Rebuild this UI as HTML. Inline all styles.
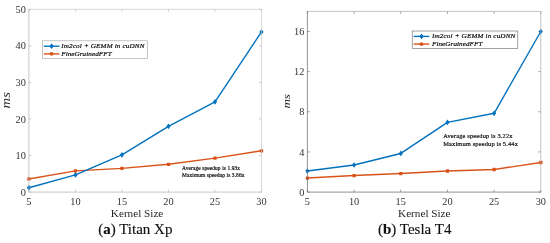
<!DOCTYPE html>
<html><head><meta charset="utf-8"><title>Figure</title>
<style>
html,body{margin:0;padding:0;background:#fff;}
body{width:550px;height:243px;overflow:hidden;position:relative;font-family:"Liberation Serif",serif;}
svg{position:absolute;left:0;top:0;}
.tk{font:10.3px "Liberation Serif",serif;fill:#333;}
.xl{font:11.2px "Liberation Serif",serif;fill:#262626;}
.yl{font-style:italic;font-family:"Liberation Serif",serif;fill:#262626;}

.lg{font:italic 7.1px "Liberation Serif",serif;fill:#111;stroke:#111;stroke-width:0.22px;}
.an{font-family:"Liberation Serif",serif;fill:#111;stroke:#111;stroke-width:0.2px;}
.cap{font:15px "Liberation Serif",serif;fill:#111;stroke:#111;stroke-width:0.15px;}
.cap tspan{font-weight:bold;}
</style></head><body>
<svg width="550" height="243" viewBox="0 0 550 243">
<rect width="550" height="243" fill="#fff"/>
<path d="M28.9 192.1H261.5V9.3H28.9Z" fill="#fff" stroke="none"/>
<path d="M28.90 192.1v-2.5M28.90 9.3v2.5" stroke="#b0b0b0" stroke-width="0.6"/>
<text x="28.90" y="205.4" text-anchor="middle" class="tk">5</text>
<path d="M75.42 192.1v-2.5M75.42 9.3v2.5" stroke="#b0b0b0" stroke-width="0.6"/>
<text x="75.42" y="205.4" text-anchor="middle" class="tk">10</text>
<path d="M121.94 192.1v-2.5M121.94 9.3v2.5" stroke="#b0b0b0" stroke-width="0.6"/>
<text x="121.94" y="205.4" text-anchor="middle" class="tk">15</text>
<path d="M168.46 192.1v-2.5M168.46 9.3v2.5" stroke="#b0b0b0" stroke-width="0.6"/>
<text x="168.46" y="205.4" text-anchor="middle" class="tk">20</text>
<path d="M214.98 192.1v-2.5M214.98 9.3v2.5" stroke="#b0b0b0" stroke-width="0.6"/>
<text x="214.98" y="205.4" text-anchor="middle" class="tk">25</text>
<path d="M261.50 192.1v-2.5M261.50 9.3v2.5" stroke="#b0b0b0" stroke-width="0.6"/>
<text x="261.50" y="205.4" text-anchor="middle" class="tk">30</text>
<path d="M28.9 192.10h2.5M261.5 192.10h-2.5" stroke="#b0b0b0" stroke-width="0.6"/>
<text x="25.799999999999997" y="195.70" text-anchor="end" class="tk">0</text>
<path d="M28.9 155.54h2.5M261.5 155.54h-2.5" stroke="#b0b0b0" stroke-width="0.6"/>
<text x="25.799999999999997" y="159.14" text-anchor="end" class="tk">10</text>
<path d="M28.9 118.98h2.5M261.5 118.98h-2.5" stroke="#b0b0b0" stroke-width="0.6"/>
<text x="25.799999999999997" y="122.58" text-anchor="end" class="tk">20</text>
<path d="M28.9 82.42h2.5M261.5 82.42h-2.5" stroke="#b0b0b0" stroke-width="0.6"/>
<text x="25.799999999999997" y="86.02" text-anchor="end" class="tk">30</text>
<path d="M28.9 45.86h2.5M261.5 45.86h-2.5" stroke="#b0b0b0" stroke-width="0.6"/>
<text x="25.799999999999997" y="49.46" text-anchor="end" class="tk">40</text>
<path d="M28.9 9.30h2.5M261.5 9.30h-2.5" stroke="#b0b0b0" stroke-width="0.6"/>
<text x="25.799999999999997" y="12.90" text-anchor="end" class="tk">50</text>
<polyline points="28.90,178.94 75.42,170.90 121.94,168.34 168.46,164.31 214.98,158.10 261.50,150.79" fill="none" stroke="#d95319" stroke-width="1.4" stroke-linejoin="round"/>
<rect x="27.25" y="177.29" width="3.3" height="3.3" rx="0.5" fill="#d95319"/>
<rect x="73.77" y="169.25" width="3.3" height="3.3" rx="0.5" fill="#d95319"/>
<rect x="120.29" y="166.69" width="3.3" height="3.3" rx="0.5" fill="#d95319"/>
<rect x="166.81" y="162.66" width="3.3" height="3.3" rx="0.5" fill="#d95319"/>
<rect x="213.33" y="156.45" width="3.3" height="3.3" rx="0.5" fill="#d95319"/>
<rect x="259.85" y="149.14" width="3.3" height="3.3" rx="0.5" fill="#d95319"/>
<polyline points="28.90,187.71 75.42,174.92 121.94,154.81 168.46,126.29 214.98,101.80 261.50,31.97" fill="none" stroke="#0072bd" stroke-width="1.4" stroke-linejoin="round"/>
<path d="M28.90 184.86l2.05 2.85l-2.05 2.85l-2.05 -2.85Z" fill="#0072bd"/>
<path d="M75.42 172.07l2.05 2.85l-2.05 2.85l-2.05 -2.85Z" fill="#0072bd"/>
<path d="M121.94 151.96l2.05 2.85l-2.05 2.85l-2.05 -2.85Z" fill="#0072bd"/>
<path d="M168.46 123.44l2.05 2.85l-2.05 2.85l-2.05 -2.85Z" fill="#0072bd"/>
<path d="M214.98 98.95l2.05 2.85l-2.05 2.85l-2.05 -2.85Z" fill="#0072bd"/>
<path d="M261.50 29.12l2.05 2.85l-2.05 2.85l-2.05 -2.85Z" fill="#0072bd"/>
<path d="M28.9 9.3H261.5V192.1" fill="none" stroke="#c8c8c8" stroke-width="0.7"/>
<path d="M28.9 9.3V192.1H261.5" fill="none" stroke="#b0b0b0" stroke-width="0.7"/>
<text x="137.1" y="216.7" text-anchor="middle" class="xl">Kernel Size</text>
<text transform="translate(9.6 100.30) rotate(-90)" text-anchor="middle" class="yl" font-size="11.8" textLength="16.3" lengthAdjust="spacingAndGlyphs">ms</text>
<rect x="42.3" y="40.8" width="105.3" height="17.6" fill="#fff" stroke="#a0a0a0" stroke-width="0.6"/>
<path d="M43.8 46.199999999999996h15.6" stroke="#0072bd" stroke-width="1.4"/>
<path d="M51.599999999999994 43.3l2.1 2.9l-2.1 2.9l-2.1 -2.9Z" fill="#0072bd"/>
<text x="61.199999999999996" y="48.4" class="lg" textLength="83.3">Im2col + GEMM in cuDNN</text>
<path d="M43.8 53.9h15.6" stroke="#d95319" stroke-width="1.4"/>
<rect x="49.89999999999999" y="52.199999999999996" width="3.4" height="3.4" rx="0.8" fill="#d95319"/>
<text x="61.199999999999996" y="56.1" class="lg" textLength="50.4">FineGrainedFFT</text>
<text x="182.1" y="170.3" class="an" font-size="5.4" textLength="57.9">Average speedup is 1.93x</text>
<text x="182.1" y="176.60000000000002" class="an" font-size="5.4" textLength="62.3">Maximum speedup is 3.86x</text>
<path d="M307.4 192.1H540.8V11.4H307.4Z" fill="#fff" stroke="none"/>
<path d="M307.40 192.1v-2.5M307.40 11.4v2.5" stroke="#666" stroke-width="0.6"/>
<text x="307.40" y="205.4" text-anchor="middle" class="tk">5</text>
<path d="M354.08 192.1v-2.5M354.08 11.4v2.5" stroke="#666" stroke-width="0.6"/>
<text x="354.08" y="205.4" text-anchor="middle" class="tk">10</text>
<path d="M400.76 192.1v-2.5M400.76 11.4v2.5" stroke="#666" stroke-width="0.6"/>
<text x="400.76" y="205.4" text-anchor="middle" class="tk">15</text>
<path d="M447.44 192.1v-2.5M447.44 11.4v2.5" stroke="#666" stroke-width="0.6"/>
<text x="447.44" y="205.4" text-anchor="middle" class="tk">20</text>
<path d="M494.12 192.1v-2.5M494.12 11.4v2.5" stroke="#666" stroke-width="0.6"/>
<text x="494.12" y="205.4" text-anchor="middle" class="tk">25</text>
<path d="M540.80 192.1v-2.5M540.80 11.4v2.5" stroke="#666" stroke-width="0.6"/>
<text x="540.80" y="205.4" text-anchor="middle" class="tk">30</text>
<path d="M307.4 192.10h2.5M540.8 192.10h-2.5" stroke="#666" stroke-width="0.6"/>
<text x="304.29999999999995" y="195.70" text-anchor="end" class="tk">0</text>
<path d="M307.4 151.94h2.5M540.8 151.94h-2.5" stroke="#666" stroke-width="0.6"/>
<text x="304.29999999999995" y="155.54" text-anchor="end" class="tk">4</text>
<path d="M307.4 111.79h2.5M540.8 111.79h-2.5" stroke="#666" stroke-width="0.6"/>
<text x="304.29999999999995" y="115.39" text-anchor="end" class="tk">8</text>
<path d="M307.4 71.63h2.5M540.8 71.63h-2.5" stroke="#666" stroke-width="0.6"/>
<text x="304.29999999999995" y="75.23" text-anchor="end" class="tk">12</text>
<path d="M307.4 31.48h2.5M540.8 31.48h-2.5" stroke="#666" stroke-width="0.6"/>
<text x="304.29999999999995" y="35.08" text-anchor="end" class="tk">16</text>
<polyline points="307.40,178.05 354.08,175.54 400.76,173.53 447.44,171.02 494.12,169.51 540.80,162.49" fill="none" stroke="#d95319" stroke-width="1.4" stroke-linejoin="round"/>
<rect x="305.75" y="176.40" width="3.3" height="3.3" rx="0.5" fill="#d95319"/>
<rect x="352.43" y="173.89" width="3.3" height="3.3" rx="0.5" fill="#d95319"/>
<rect x="399.11" y="171.88" width="3.3" height="3.3" rx="0.5" fill="#d95319"/>
<rect x="445.79" y="169.37" width="3.3" height="3.3" rx="0.5" fill="#d95319"/>
<rect x="492.47" y="167.86" width="3.3" height="3.3" rx="0.5" fill="#d95319"/>
<rect x="539.15" y="160.84" width="3.3" height="3.3" rx="0.5" fill="#d95319"/>
<polyline points="307.40,171.02 354.08,165.00 400.76,153.45 447.44,122.33 494.12,113.29 540.80,31.48" fill="none" stroke="#0072bd" stroke-width="1.4" stroke-linejoin="round"/>
<path d="M307.40 168.17l2.05 2.85l-2.05 2.85l-2.05 -2.85Z" fill="#0072bd"/>
<path d="M354.08 162.15l2.05 2.85l-2.05 2.85l-2.05 -2.85Z" fill="#0072bd"/>
<path d="M400.76 150.60l2.05 2.85l-2.05 2.85l-2.05 -2.85Z" fill="#0072bd"/>
<path d="M447.44 119.48l2.05 2.85l-2.05 2.85l-2.05 -2.85Z" fill="#0072bd"/>
<path d="M494.12 110.44l2.05 2.85l-2.05 2.85l-2.05 -2.85Z" fill="#0072bd"/>
<path d="M540.80 28.63l2.05 2.85l-2.05 2.85l-2.05 -2.85Z" fill="#0072bd"/>
<path d="M307.4 11.4H540.8V192.1" fill="none" stroke="#aaa" stroke-width="0.7"/>
<path d="M307.4 11.4V192.1H540.8" fill="none" stroke="#666" stroke-width="0.7"/>
<text x="424.3" y="216.7" text-anchor="middle" class="xl">Kernel Size</text>
<text transform="translate(289.6 101.35) rotate(-90)" text-anchor="middle" class="yl" font-size="10.8" textLength="14.5" lengthAdjust="spacingAndGlyphs">ms</text>
<rect x="412.2" y="31" width="105.6" height="17.3" fill="#fff" stroke="#666" stroke-width="0.6"/>
<path d="M413.7 36.4h15.6" stroke="#0072bd" stroke-width="1.4"/>
<path d="M421.5 33.5l2.1 2.9l-2.1 2.9l-2.1 -2.9Z" fill="#0072bd"/>
<text x="431.99999999999994" y="38.1" class="lg" textLength="83.3">Im2col + GEMM in cuDNN</text>
<path d="M413.7 44.1h15.6" stroke="#d95319" stroke-width="1.4"/>
<rect x="419.8" y="42.4" width="3.4" height="3.4" rx="0.8" fill="#d95319"/>
<text x="431.99999999999994" y="45.800000000000004" class="lg" textLength="50.4">FineGrainedFFT</text>
<text x="443.2" y="138.4" class="an" font-size="6.4" textLength="69.3">Average speedup is 3.22x</text>
<text x="443.2" y="145.8" class="an" font-size="6.4" textLength="74.7">Maximum speedup is 5.44x</text>
<text x="135.3" y="234.1" text-anchor="middle" class="cap">(<tspan>a</tspan>) Titan Xp</text>
<text x="414.7" y="234.0" text-anchor="middle" class="cap">(<tspan>b</tspan>) Tesla T4</text>
</svg>
</body></html>
